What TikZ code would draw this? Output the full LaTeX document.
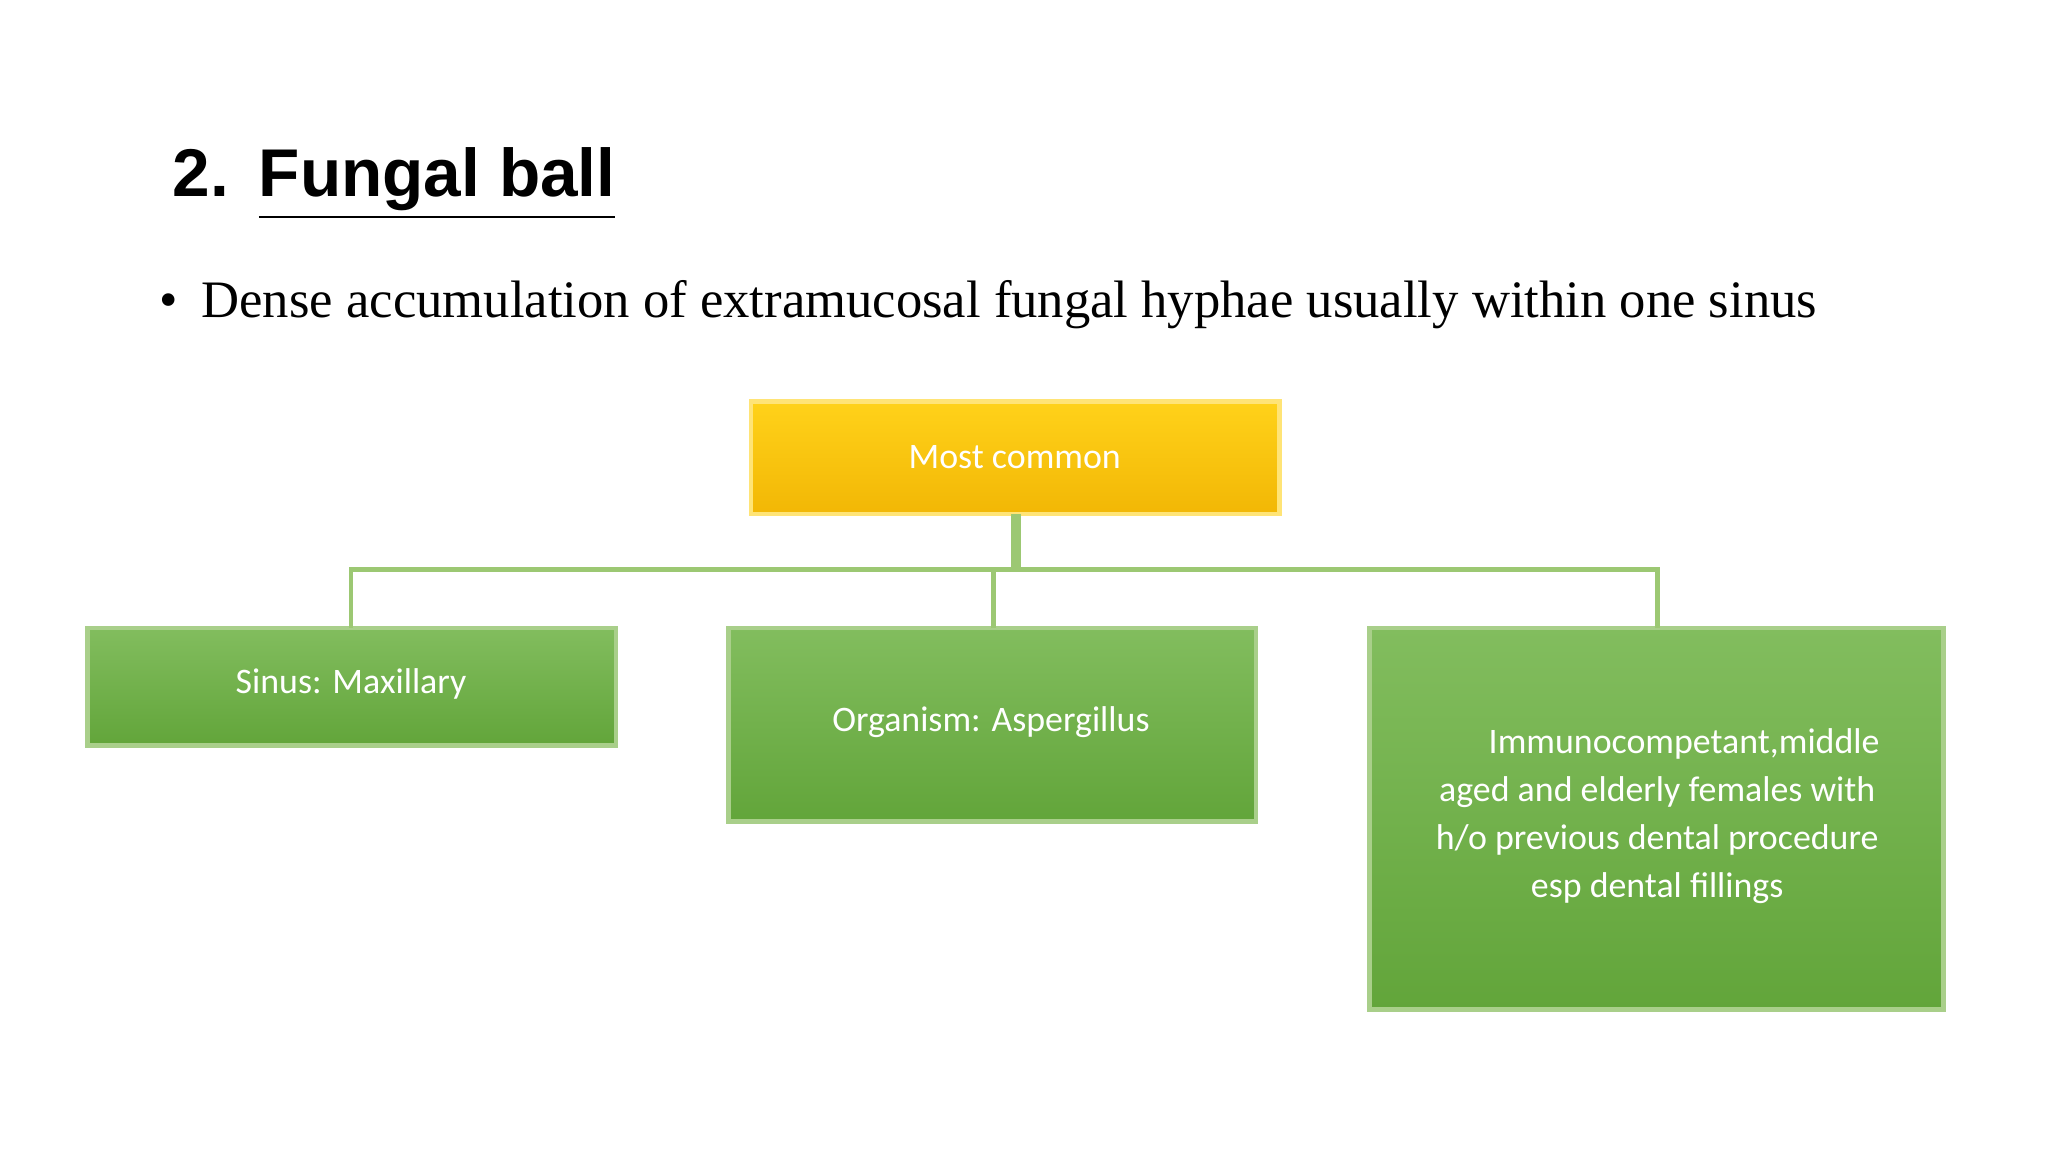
\documentclass[tikz,border=0pt]{standalone}
\usepackage{fontspec}
\setmainfont{Liberation Serif}
\newfontfamily\titlefont{Liberation Sans}
\newfontfamily\boxfont{Carlito}
\definecolor{ytop}{HTML}{FFD21A}
\definecolor{ybot}{HTML}{F2B705}
\definecolor{gtop}{HTML}{82BD5E}
\definecolor{gbot}{HTML}{62A53A}
\definecolor{gline}{HTML}{9CC873}
\definecolor{gedge}{HTML}{A9CF8A}
\tikzset{
  greenbox/.style={draw=gedge,line width=1pt,top color=gtop,bottom color=gbot,text=white,font=\boxfont\fontsize{7.7}{10.3}\selectfont,align=center,inner sep=0pt},
  yellowbox/.style={draw=ytop!60!white,line width=1pt,top color=ytop,bottom color=ybot,text=white,font=\boxfont\fontsize{7.7}{10.3}\selectfont,inner sep=0pt},
  conn/.style={draw=gline,line width=1pt}
}
\begin{document}
\begin{tikzpicture}[x=0.01cm,y=-0.01cm]
\useasboundingbox (0,0) rectangle (1546,870);
\node[anchor=base west,font=\titlefont\bfseries\fontsize{14.5}{17}\selectfont] (num) at (118,148) {2.};
\node[anchor=base west,font=\titlefont\bfseries\fontsize{14.5}{17}\selectfont] (ttl) at (183,148) {\underline{Fungal ball}};
\node[anchor=base west,font=\fontsize{11.3}{14}\selectfont] (bul) at (108,240) {•\hspace{0.45em}Dense accumulation of extramucosal fungal hyphae usually within one sinus};
\path[yellowbox] (567,303) rectangle (966,388);
\node[text=white,font=\boxfont\fontsize{7.7}{10.3}\selectfont] (top) at (766,345) {Most common};
\coordinate (tb) at (767,388);
\path[greenbox] (66,474) rectangle (465,563);
\path[greenbox] (550,474) rectangle (948,620);
\path[greenbox] (1034,474) rectangle (1467,762);
\node[text=white,font=\boxfont\fontsize{7.7}{10.3}\selectfont] (b1) at (265,516) {Sinus: Maxillary};
\node[text=white,font=\boxfont\fontsize{7.7}{10.3}\selectfont] (b2) at (748,545) {Organism: Aspergillus};
\node[text=white,align=center,font=\boxfont\fontsize{7.7}{10.3}\selectfont] (b3) at (1251,616) {\hspace{1.5em}Immunocompetant,middle\\aged and elderly females with\\h/o previous dental procedure\\esp dental fillings};
\coordinate (l1) at (265,474);
\coordinate (l2) at (750,474);
\coordinate (l3) at (1251,474);
\draw[conn,line width=2pt] (tb) -- (767,430);
\draw[conn] (l1) -- (265,430) -- (1251,430) -- (l3);
\draw[conn] (l2) -- (750,430);
\end{tikzpicture}
\end{document}
